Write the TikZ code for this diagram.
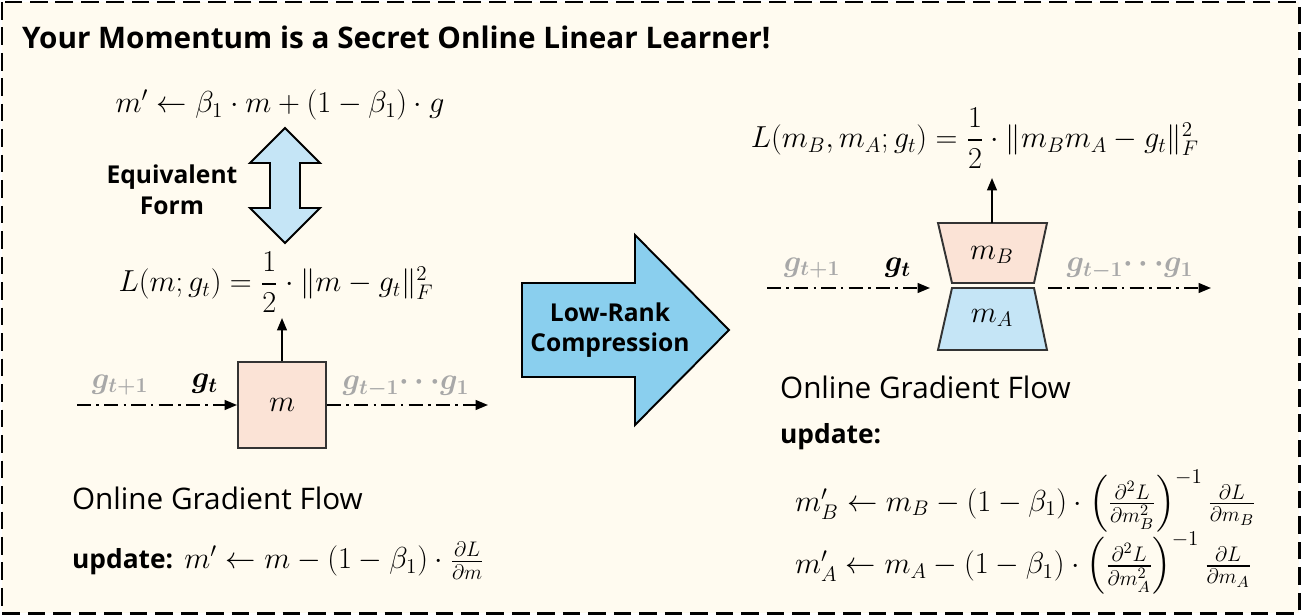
\documentclass[tikz,border=0pt]{standalone}
\usepackage{amsmath}
\usepackage{amssymb}
\usepackage{fontspec}
\setmainfont{Open Sans}
\usetikzlibrary{arrows.meta,positioning}
\definecolor{paper}{HTML}{FFFBF0}
\definecolor{peach}{HTML}{FBE3D6}
\definecolor{skylight}{HTML}{C5E5F6}
\definecolor{skydeep}{HTML}{8ACFEE}
\definecolor{fadegray}{HTML}{A8A8A8}

\begin{document}
\begin{tikzpicture}[x=0.02cm, y=-0.02cm,
        every node/.style={inner sep=1pt},
        txt/.style={font=\fontsize{16.9}{20}\selectfont},
        head/.style={font=\fontsize{15}{18}\selectfont\bfseries},
        eq/.style={font=\fontsize{17}{20}\selectfont},
        flow/.style={-{Triangle[length=7pt,width=5.5pt]}, line width=1.1pt},
        dashdot/.style={flow, dash pattern=on 8pt off 3pt on 1.5pt off 3pt},
        block/.style={draw=black!80, line width=1.1pt},
        fatarrow/.style={draw=black, line width=1.1pt, line join=miter}
    ]
    \useasboundingbox (0,0) rectangle (1301,615);
    \path[fill=paper, draw=black, line width=1.7pt, dash pattern=on 10pt off 4.5pt]
        (2,2) rectangle (1299,613);

    \node[head, anchor=west, font=\fontsize{16.9}{20}\selectfont\bfseries] (title) at (20,37)
        {Your Momentum is a Secret Online Linear Learner!};

    % left part: momentum as online learner
    \node[eq] (ema) at (280,105) {$m' \leftarrow \beta_1\cdot m + (1-\beta_1)\cdot g$};
    \path[fatarrow, fill=skylight] (285,128) -- (320,163) -- (300,163) -- (300,208) -- (320,208)
        -- (285,243) -- (250,208) -- (270,208) -- (270,163) -- (250,163) -- cycle;
    \node[head, align=center, font=\fontsize{14}{17.5}\selectfont\bfseries] (equiv) at (172,190) {Equivalent\\Form};
    \node[eq] (lossL) at (276,282) {$L(m;g_t) = \dfrac{1}{2}\cdot\|m-g_t\|_F^2$};

    \node[block, fill=peach, minimum width=1.76cm, minimum height=1.72cm, eq] (mbox) at (282,405) {$m$};
    \coordinate (inL) at (77,405);
    \coordinate (outL) at (488,405);
    \draw[dashdot] (inL) -- (mbox.west);
    \draw[dashdot] (mbox.east) -- (outL);
    \draw[flow] (mbox.north) -- (mbox.north |- 0,318);
    \node[eq, text=fadegray] (gnextL) at (120,385) {$\boldsymbol{g_{t+1}}$};
    \node[eq] (gnowL) at (205,384) {$\boldsymbol{g_t}$};
    \node[eq, text=fadegray] (gpastL) at (406,386) {$\boldsymbol{g_{t-1}\!\cdots\! g_1}$};

    \node[txt, anchor=west] (ogfL) at (70,498) {Online Gradient Flow};
    \node[head, anchor=west] (updL) at (70,562) {update:};
    \node[eq, anchor=base west] (ruleL) at ([xshift=4pt]updL.base east)
        {$m' \leftarrow m-(1-\beta_1)\cdot\frac{\partial L}{\partial m}$};

    % middle: compression arrow
    \path[fatarrow, fill=skydeep] (522,283) -- (635,283) -- (635,235) -- (729,330)
        -- (635,425) -- (635,377) -- (522,377) -- cycle;
    \node[head, align=center, font=\fontsize{14}{17.5}\selectfont\bfseries] (lowrank) at (610,330) {Low-Rank\\Compression};

    % right part: low-rank factors
    \node[eq] (lossR) at (975,138) {$L(m_B,m_A;g_t) = \dfrac{1}{2}\cdot\|m_Bm_A-g_t\|_F^2$};
    \path[block, fill=peach] (938,223) -- (1047,223) -- (1034,283) -- (952,283) -- cycle;
    \path[block, fill=skylight] (952,288) -- (1034,288) -- (1047,350) -- (938,350) -- cycle;
    \coordinate (mBtop) at (992,223);
    \node[eq] (mB) at (992,255) {$m_B$};
    \node[eq] (mA) at (992,318) {$m_A$};
    \coordinate (inR) at (767,288);
    \coordinate (inRend) at (930,288);
    \coordinate (outRstart) at (1048,288);
    \coordinate (outR) at (1211,288);
    \draw[dashdot] (inR) -- (inRend);
    \draw[dashdot] (outRstart) -- (outR);
    \draw[flow] (mBtop) -- (mBtop |- 0,178);
    \node[eq, text=fadegray] (gnextR) at (812,268) {$\boldsymbol{g_{t+1}}$};
    \node[eq] (gnowR) at (898,268) {$\boldsymbol{g_t}$};
    \node[eq, text=fadegray] (gpastR) at (1130,268) {$\boldsymbol{g_{t-1}\!\cdots\! g_1}$};

    \node[txt, anchor=west] (ogfR) at (778,387) {Online Gradient Flow};
    \node[head, anchor=west] (updR) at (778,437) {update:};
    \node[eq, anchor=west, font=\fontsize{18}{21}\selectfont] (rulesR) at (793,532)
        {$\begin{array}{@{}l@{}}
            m_B' \leftarrow m_B-(1-\beta_1)\cdot\left(\frac{\partial^2 L}{\partial m_B^2}\right)^{-1}\frac{\partial L}{\partial m_B}\\[1pt]
            m_A' \leftarrow m_A-(1-\beta_1)\cdot\left(\frac{\partial^2 L}{\partial m_A^2}\right)^{-1}\frac{\partial L}{\partial m_A}
        \end{array}$};
\end{tikzpicture}
\end{document}
